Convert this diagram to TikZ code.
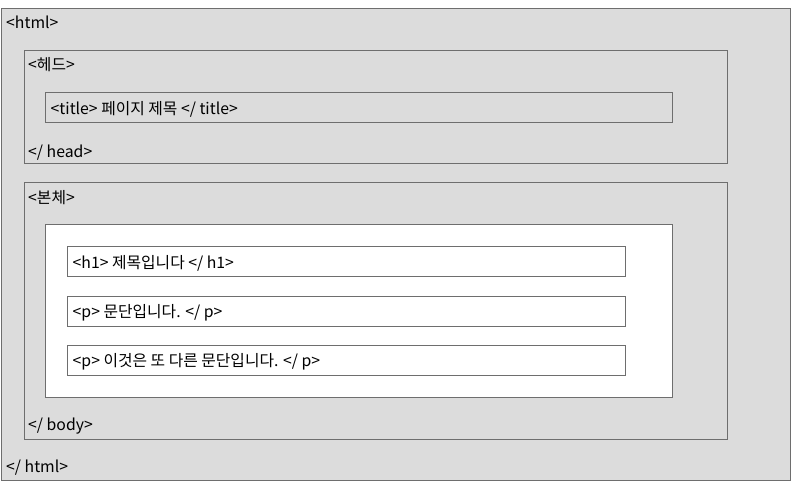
\documentclass[tikz,border=0pt]{standalone}
\usepackage{fontspec}
\setmainfont{Noto Sans CJK KR}
\usetikzlibrary{positioning}
\definecolor{boxgray}{HTML}{DCDCDC}
\definecolor{edgegray}{HTML}{6E6E6E}

\begin{document}
\begin{tikzpicture}[x=1pt,y=-1pt,
	box/.style={draw=edgegray,line width=1pt,fill=boxgray,anchor=north west,inner sep=0pt},
	tag/.style={anchor=west,inner sep=0pt,yshift=-1.5pt,text=black,font=\fontsize{15.8}{18}\selectfont}]
	\useasboundingbox (0,0) rectangle (800,486);
	
	% nested boxes
	\node[box,minimum width=789pt,minimum height=471pt] (html) at (0.5,8.5) {};
	\node[box,minimum width=703pt,minimum height=113pt] (head) at (23.5,50.5) {};
	\node[box,minimum width=627pt,minimum height=30pt] (titlebox) at (44.5,92.5) {};
	\node[box,minimum width=703pt,minimum height=256pt] (body) at (23.5,182.5) {};
	\node[box,fill=white,minimum width=627pt,minimum height=172pt] (inner) at (44.5,224.5) {};
	\node[box,fill=white,minimum width=558pt,minimum height=30pt] (h1box) at (66.5,246.5) {};
	\node[box,fill=white,minimum width=558pt,minimum height=30pt] (p1box) at (66.5,295.5) {};
	\node[box,fill=white,minimum width=558pt,minimum height=30pt] (p2box) at (66.5,344.5) {};
	
	% tags
	\node[tag] (htmlopen) at (6,21) {<html>};
	\node[tag] (htmlclose) at (6,466) {</ html>};
	\node[tag] (headopen) at (28,63) {<헤드>};
	\node[tag] (headclose) at (28,151) {</ head>};
	\node[tag] (bodyopen) at (28,196) {<본체>};
	\node[tag] (bodyclose) at (28,425) {</ body>};
	\node[tag] (titletext) [right=6pt of titlebox.west] {<title> 페이지 제목 </ title>};
	\node[tag] (h1text) [right=6pt of h1box.west] {<h1> 제목입니다 </ h1>};
	\node[tag] (p1text) [right=6pt of p1box.west] {<p> 문단입니다. </ p>};
	\node[tag] (p2text) [right=6pt of p2box.west] {<p> 이것은 또 다른 문단입니다. </ p>};
\end{tikzpicture}
\end{document}
